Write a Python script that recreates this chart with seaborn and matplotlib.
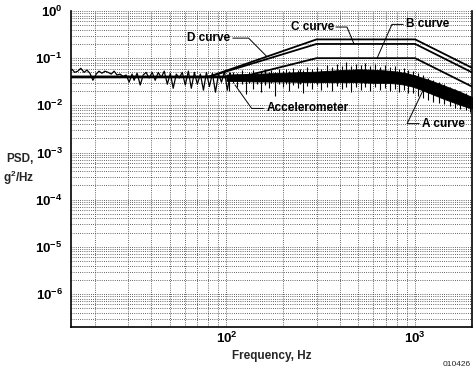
import numpy as np
import pandas as pd
import matplotlib
matplotlib.use("Agg")
import matplotlib.pyplot as plt
from matplotlib.ticker import LogLocator, FuncFormatter, NullFormatter
import seaborn as sns

# ── data ──
# accelerometer trace, low-frequency part (individual wiggles visible)
acc_freq = [15.0, 15.2, 15.7, 16.3, 16.9, 17.6, 18.2, 18.9, 19.6, 20.4,
            21.1, 21.9, 22.7, 23.6, 24.5, 25.4, 26.3, 27.3, 28.3, 29.4,
            30.5, 31.6, 32.4, 33.6, 34.9, 36.2, 37.5, 38.9, 40.4, 41.9,
            43.5, 45.1, 46.8, 48.6, 50.4, 52.2, 54.2, 56.2, 58.3, 60.5,
            62.8, 65.1, 67.6, 70.1, 72.7, 75.5, 78.3, 81.2, 84.2, 87.4,
            90.7, 94.1, 97.6, 101.0, 105.0]
acc_psd = [0.056, 0.058, 0.050, 0.053, 0.061, 0.050, 0.056, 0.048, 0.034, 0.046,
           0.053, 0.048, 0.053, 0.050, 0.046, 0.053, 0.044, 0.046, 0.041, 0.044,
           0.031, 0.046, 0.034, 0.048, 0.027, 0.044, 0.050, 0.038, 0.050, 0.034,
           0.050, 0.039, 0.053, 0.028, 0.048, 0.023, 0.046, 0.038, 0.050, 0.027,
           0.053, 0.023, 0.050, 0.028, 0.046, 0.021, 0.050, 0.025, 0.048, 0.019,
           0.046, 0.031, 0.053, 0.021, 0.048]

# accelerometer trace, dense part: solid core band ...
core_freq = [100, 150, 200, 300, 400, 500, 600, 700, 800, 900, 1000, 1200, 1400, 1700, 2000]
core_hi = [0.045, 0.047, 0.049, 0.052, 0.056, 0.058, 0.057, 0.055, 0.052, 0.048,
           0.043, 0.034, 0.027, 0.020, 0.015]
core_lo = [0.033, 0.032, 0.032, 0.031, 0.031, 0.031, 0.030, 0.030, 0.029, 0.027,
           0.024, 0.018, 0.014, 0.0105, 0.0085]
# ... plus the spikes sticking out of it
spike_freq = [103, 108, 114, 121, 127, 131, 138, 145, 152, 160,
              168, 173, 181, 190, 199, 206, 214, 226, 238, 245,
              255, 268, 284, 300, 318, 340, 362, 385, 410, 432,
              458, 486, 515, 545, 575, 610, 650, 690, 735, 780,
              825, 870, 920, 975, 1030, 1100, 1170, 1250, 1330, 1420,
              1520, 1620, 1730, 1850, 1960]
spike_lo = [0.020, 0.030, 0.024, 0.028, 0.017, 0.030, 0.022, 0.029, 0.019, 0.027,
            0.023, 0.030, 0.016, 0.028, 0.024, 0.029, 0.020, 0.027, 0.023, 0.029,
            0.018, 0.026, 0.022, 0.027, 0.021, 0.025, 0.020, 0.026, 0.022, 0.025,
            0.019, 0.024, 0.021, 0.025, 0.020, 0.024, 0.021, 0.023, 0.020, 0.022,
            0.019, 0.021, 0.018, 0.018, 0.016, 0.014, 0.013, 0.012, 0.011, 0.0105,
            0.0095, 0.009, 0.0085, 0.008, 0.0072]
spike_hi = [0.050, 0.052, 0.048, 0.055, 0.047, 0.050, 0.056, 0.049, 0.053, 0.058,
            0.050, 0.055, 0.052, 0.060, 0.054, 0.058, 0.053, 0.062, 0.056, 0.060,
            0.055, 0.064, 0.058, 0.066, 0.060, 0.070, 0.064, 0.075, 0.067, 0.082,
            0.068, 0.076, 0.070, 0.078, 0.069, 0.074, 0.066, 0.071, 0.064, 0.068,
            0.060, 0.062, 0.055, 0.054, 0.048, 0.043, 0.038, 0.034, 0.031, 0.028,
            0.025, 0.022, 0.020, 0.018, 0.016]

# test curves (break points)
curve_a_freq = [15, 1000, 2000]
curve_a_psd = [0.04, 0.04, 0.01]
curve_b_freq = [15, 120, 300, 1000, 2000]
curve_b_psd = [0.04, 0.04, 0.1, 0.1, 0.025]
curve_c_freq = [15, 80, 300, 1000, 2000]
curve_c_psd = [0.04, 0.04, 0.2, 0.2, 0.05]
curve_d_freq = [15, 80, 300, 1000, 2000]
curve_d_psd = [0.04, 0.04, 0.25, 0.25, 0.0625]

sns.set_theme(style="white")
plt.rcParams["font.family"] = ["Liberation Sans", "DejaVu Sans"]
plt.rcParams["font.weight"] = "bold"
plt.rcParams["mathtext.fontset"] = "custom"
plt.rcParams["mathtext.rm"] = "Liberation Sans:bold"
plt.rcParams["mathtext.it"] = "Liberation Sans:bold"
plt.rcParams["mathtext.bf"] = "Liberation Sans:bold"

W, H = 474, 370
fig = plt.figure(figsize=(W / 100, H / 100), dpi=100)
ax = fig.add_axes([71 / W, 1 - 327 / H, (472 - 71) / W, (327 - 11) / H])
ax.set_xscale("log")
ax.set_yscale("log")

# ── accelerometer ──
ax.fill_between(core_freq, core_lo, core_hi, color="black", lw=0.6)
ax.vlines(spike_freq, spike_lo, spike_hi, color="black", lw=0.8)
sns.lineplot(x=acc_freq, y=acc_psd, ax=ax, color="black", lw=0.9,
             estimator=None, sort=False)

# ── curves ──
sns.lineplot(x=curve_a_freq, y=curve_a_psd, ax=ax, color="black", lw=2.0, estimator=None)
for fr, ps in [(curve_b_freq, curve_b_psd), (curve_c_freq, curve_c_psd),
               (curve_d_freq, curve_d_psd)]:
    sns.lineplot(x=fr, y=ps, ax=ax, color="black", lw=1.3, estimator=None)

# ── labels with leader lines ──
lab = dict(fontsize=8.5, fontweight="bold", color="black", va="center")
ax.text(104, 0.266, "D curve", ha="right", **lab)
ax.plot([108, 131, 163], [0.266, 0.266, 0.11], color="black", lw=0.7)

ax.text(219, 0.457, "C curve", ha="left", **lab)
ax.plot([380, 435, 474], [0.457, 0.457, 0.2], color="black", lw=0.7)

ax.text(895, 0.52, "B curve", ha="left", **lab)
ax.plot([864, 753, 628], [0.52, 0.52, 0.1], color="black", lw=0.7)

ax.text(163, 0.0086, "Accelerometer", ha="left", **lab)
ax.plot([157, 136, 111], [0.0086, 0.0086, 0.027], color="black", lw=0.7)

ax.text(1091, 0.0041, "A curve", ha="left", **lab)
ax.plot([1050, 906, 1150], [0.0041, 0.0041, 0.03], color="black", lw=0.7)

# ── axes ──
ax.set_xlim(15, 2000)
ax.set_ylim(2e-7, 1)
ax.set_xlabel("")
ax.set_ylabel("")
ax.set_xticks([100, 1000])
ax.set_yticks([1e-6, 1e-5, 1e-4, 1e-3, 1e-2, 1e-1, 1])
ax.yaxis.set_minor_locator(LogLocator(base=10, subs=np.arange(2, 10), numticks=12))
ax.xaxis.set_minor_locator(LogLocator(base=10, subs=np.arange(2, 10), numticks=12))
fmt = FuncFormatter(lambda v, p: f"$10^{{{int(round(np.log10(v)))}}}$")
ax.xaxis.set_major_formatter(fmt)
ax.yaxis.set_major_formatter(fmt)
ax.xaxis.set_minor_formatter(NullFormatter())
ax.yaxis.set_minor_formatter(NullFormatter())
ax.set_xlim(15, 2000)
ax.set_ylim(2e-7, 1)
ax.tick_params(which="both", length=0, labelsize=9.5, colors="black")
ax.tick_params(axis="y", pad=6)
ax.tick_params(axis="x", pad=3)
ax.grid(True, which="both", ls=(0, (1, 1.6)), lw=0.6, color="0.2")
for side in ["left", "bottom", "right"]:
    ax.spines[side].set_color("black")
    ax.spines[side].set_linewidth(1.2)
ax.spines["top"].set_visible(False)

fig.text(272 / W, 1 - 356 / H, "Frequency, Hz", ha="center", va="center",
         fontsize=8.5, fontweight="bold")
fig.text(34 / W, 1 - 170 / H, "PSD,\ng$^2$/Hz", ha="right", va="center",
         multialignment="right", linespacing=1.35, fontsize=8.5, fontweight="bold")
fig.text(443 / W, 1 - 364 / H, "010426", ha="left", va="center",
         fontsize=6, fontweight="normal")

fig.savefig("out.png", dpi=100)
